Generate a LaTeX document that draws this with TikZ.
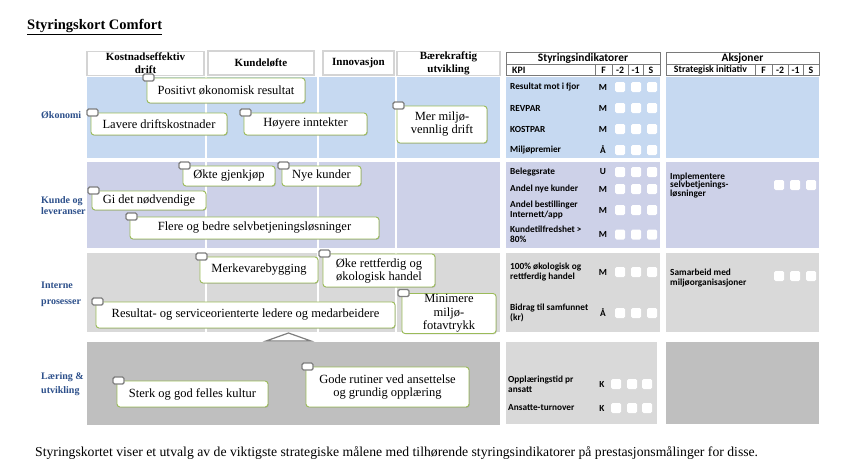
\documentclass[tikz,border=0pt]{standalone}
\usepackage{fontspec}
\setmainfont{Liberation Serif}
\newfontfamily\kpifont{Carlito}
\usepackage{xcolor}
\usepackage{tikz}
\usetikzlibrary{positioning,calc,shadows}
\definecolor{ScEconBlue}{HTML}{C6D9F1}
\definecolor{ScCustLilac}{HTML}{CDD1E8}
\definecolor{ScProcGray}{HTML}{D9D9D9}
\definecolor{ScLearnGray}{HTML}{BFBFBF}
\definecolor{ScLabelBlue}{HTML}{2C4F8A}
\definecolor{ScGoalGreen}{HTML}{9BBB59}
\definecolor{ScTickGray}{HTML}{7F7F7F}
\definecolor{ScHeadGray}{HTML}{D4D4D4}
\definecolor{ScRule}{HTML}{7A7A7A}
\tikzset{
  goal/.style={draw=ScGoalGreen,line width=0.9pt,rounded corners=3pt,fill=white,
    align=center,inner sep=1pt,font=\fontsize{12.5}{13}\selectfont,
    drop shadow={shadow xshift=0.8pt,shadow yshift=-0.8pt,opacity=0.35}},
  tickbox/.style={draw=ScTickGray,line width=1.3pt,rounded corners=1.5pt,fill=white,
    minimum width=11pt,minimum height=7pt,inner sep=0pt},
  colhead/.style={draw=ScHeadGray,line width=1.3pt,fill=white,align=center,inner sep=0pt,
    font=\fontsize{11}{13}\selectfont\bfseries},
  rowlabel/.style={anchor=west,align=left,text=ScLabelBlue,inner sep=0pt,
    font=\fontsize{10}{11}\selectfont\bfseries},
  kpi/.style={anchor=west,align=left,inner sep=0pt,
    font=\kpifont\fontsize{9.3}{10}\selectfont\bfseries},
  score/.style={fill=white,rounded corners=1.5pt,minimum size=10pt,inner sep=0pt}
}

\begin{document}
\begin{tikzpicture}[x=1pt,y=-1pt]
  \path[use as bounding box] (0,0) rectangle (847,471);
  \tikzset{
    cellhead/.style={font=\kpifont\fontsize{11.4}{12}\selectfont\bfseries,inner sep=0pt},
    cellsub/.style={font=\kpifont\fontsize{9.8}{10}\selectfont\bfseries,inner sep=0pt}
  }

  \node[anchor=base west,inner sep=0pt,font=\fontsize{14.5}{16}\selectfont\bfseries] (title) at (27,30)
    {\underline{Styringskort Comfort}};

  \foreach \y/\h/\c in {77/158/ScEconBlue,162/248/ScCustLilac,253/332/ScProcGray}{
    \fill[\c] (87,\y) rectangle (500,\h);
    \fill[\c] (506,\y) rectangle (660,\h);
    \fill[\c] (666,\y) rectangle (819,\h);
    \foreach \x in {206,318,396}
      \draw[white,line width=1.5pt] (\x,\y) -- (\x,\h);
  }
  \fill[ScLearnGray] (87,342) rectangle (500,425);
  \fill[ScProcGray] (506,342) rectangle (657,424);
  \fill[ScLearnGray] (666,342) rectangle (819,424);
  \filldraw[fill=white,draw=ScTickGray,line width=1.2pt] (266,341) -- (288.5,333) -- (311,341) -- cycle;

  \node[colhead,minimum width=117pt,minimum height=24pt] (hCost) at (145.5,63.5) {Kostnadseffektiv\\drift};
  \node[colhead,minimum width=106pt,minimum height=24pt] (hPromise) at (261,63) {Kundeløfte};
  \node[colhead,minimum width=71pt,minimum height=24pt] (hInnov) at (358.5,63) {Innovasjon};
  \node[colhead,minimum width=103pt,minimum height=24pt] (hSustain) at (448.5,63.5) {Bærekraftig\\utvikling};

  \node[rowlabel] (lEcon) at (41,115) {Økonomi};
  \node[rowlabel] (lCust) at (41,205.5) {Kunde og\\leveranser};
  \node[rowlabel,font=\fontsize{10}{16}\selectfont\bfseries] (lProc) at (41,294) {Interne\\prosesser};
  \node[rowlabel,font=\fontsize{10}{14}\selectfont\bfseries] (lLearn) at (41,384) {Læring \&\\utvikling};

  \draw[ScRule,line width=0.6pt] (506,52) rectangle (660,75) (506,64) -- (660,64);
  \draw[ScRule,line width=0.6pt] (666,52) rectangle (819,75) (666,64) -- (819,64);
  \foreach \x in {595,612,628,643,755,772,788,803}
    \draw[ScRule,line width=0.6pt] (\x,64) -- (\x,75);
  \node[cellhead] (tKpi) at (583,58) {Styringsindikatorer};
  \node[cellhead] (tAct) at (742.5,58) {Aksjoner};
  \node[cellsub,anchor=west] (sKpi) at (512,70) {KPI};
  \node[cellsub] (sInit) at (710.5,70) {Strategisk initiativ};
  \foreach \x/\t [count=\i] in {603.5/F,620/-2,635.5/-1,651/S,763.5/F,780/-2,795.5/-1,811/S}
    \node[cellsub] (sub\i) at (\x,70) {\t};

  \foreach \y/\txt/\f [count=\i] in {87/Resultat mot i fjor/M,108/REVPAR/M,129/KOSTPAR/M,150/Miljøpremier/Å,
      172/Beleggsrate/U,189/Andel nye kunder/M,210/{Andel bestillinger\\Internett/app}/M,
      234.5/{Kundetilfredshet >\\80\%}/M,272/{100\% økologisk og\\rettferdig handel}/M,
      313/{Bidrag til samfunnet\\(kr)}/Å}{
    \node[kpi] (kpi\i) at (510,\y) {\txt};
    \node[kpi,anchor=center] (freq\i) at (603,\y) {\f};
    \foreach \x [count=\j] in {620,636,652}
      \node[score] (sc\i-\j) at (\x,\y) {};
  }
  \foreach \y/\txt [count=\i] in {384/{Opplæringstid pr\\ansatt},408/Ansatte-turnover}{
    \node[kpi] (kpiL\i) at (508,\y) {\txt};
    \node[kpi,anchor=center] (freqL\i) at (602,\y) {K};
    \foreach \x [count=\j] in {616,632,647}
      \node[score] (scL\i-\j) at (\x,\y) {};
  }

  \node[kpi,font=\kpifont\fontsize{9.3}{8.8}\selectfont\bfseries] (actSelf) at (670,185.5) {Implementere\\selvbetjenings-\\løsninger};
  \node[kpi] (actPartner) at (670,278) {Samarbeid med\\miljøorganisasjoner};
  \foreach \y/\a in {185/Self,276/Partner}
    \foreach \x [count=\j] in {779,795,811}
      \node[score] (sc\a-\j) at (\x,\y) {};

  \node[goal,minimum width=158pt,minimum height=25pt] (gProfit) at (226,90.5) {Positivt økonomisk resultat};
  \node[goal,minimum width=136pt,minimum height=22pt] (gCost) at (159,124) {Lavere driftskostnader};
  \node[goal,minimum width=123pt,minimum height=22pt] (gRevenue) at (305.5,124) {Høyere inntekter};
  \node[goal,minimum width=90pt,minimum height=37pt] (gGreenOp) at (442,124.5) {Mer miljø-\\vennlig drift};
  \node[goal,minimum width=92pt,minimum height=20pt] (gRebuy) at (229,176) {Økte gjenkjøp};
  \node[goal,minimum width=79pt,minimum height=20pt] (gNewCust) at (321.5,176) {Nye kunder};
  \node[goal,minimum width=114pt,minimum height=19pt] (gNeeded) at (149,200.5) {Gi det nødvendige};
  \node[goal,minimum width=249pt,minimum height=22pt] (gSelfServ) at (254.5,228) {Flere og bedre selvbetjeningsløsninger};
  \node[goal,minimum width=118pt,minimum height=26pt] (gBrand) at (259,270) {Merkevarebygging};
  \node[goal,minimum width=112pt,minimum height=33pt] (gFairTrade) at (379,270.5) {Øke rettferdig og\\økologisk handel};
  \node[goal,minimum width=299pt,minimum height=26pt] (gStaff) at (245.5,315) {Resultat- og serviceorienterte ledere og medarbeidere};
  \node[goal,minimum width=94pt,minimum height=39pt,font=\fontsize{12.5}{13.5}\selectfont] (gFootprint) at (449,313.5) {Minimere\\miljø-\\fotavtrykk};
  \node[goal,minimum width=151pt,minimum height=26pt] (gCulture) at (192.5,394) {Sterk og god felles kultur};
  \node[goal,minimum width=163pt,minimum height=40pt] (gRoutines) at (387.5,387) {Gode rutiner ved ansettelse\\og grundig opplæring};
  \foreach \g in {gProfit,gCost,gRevenue,gGreenOp,gRebuy,gNewCust,gNeeded,gSelfServ,
      gBrand,gFairTrade,gStaff,gFootprint,gCulture,gRoutines}
    \node[tickbox] (\g-tick) at ([shift={(2pt,0pt)}]\g.north west) {};

  \node[anchor=base west,inner sep=0pt,font=\fontsize{13.7}{15}\selectfont] (caption) at (35,456)
    {Styringskortet viser et utvalg av de viktigste strategiske målene med tilhørende styringsindikatorer på prestasjonsmålinger for disse.};
\end{tikzpicture}
\end{document}
